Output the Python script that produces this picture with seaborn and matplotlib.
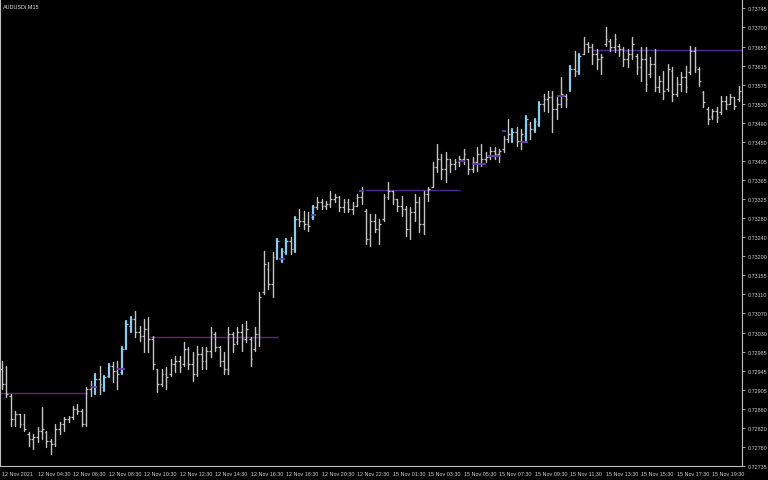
import numpy as np
import pandas as pd
import matplotlib
matplotlib.use("Agg")
import matplotlib.pyplot as plt
import seaborn as sns

# ---------------- data (AUDUSDi, M15) ----------------
highs = [0.72967, 0.72956, 0.72894, 0.72857, 0.72850, 0.72850, 0.72810, 0.72806, 0.72821, 0.72865,
         0.72812, 0.72795, 0.72828, 0.72832, 0.72843, 0.72846, 0.72868, 0.72872, 0.72861, 0.72909,
         0.72923, 0.72938, 0.72956, 0.72934, 0.72960, 0.72965, 0.72967, 0.72998, 0.73055, 0.73064,
         0.73077, 0.73044, 0.73059, 0.73064, 0.73022, 0.72949, 0.72949, 0.72954,
         0.72971, 0.72978, 0.72978, 0.73009, 0.72998, 0.72987, 0.73000, 0.72998, 0.72998, 0.73042, 0.73031,
         0.73000, 0.72987, 0.73042, 0.73031, 0.73042, 0.73048, 0.73055, 0.73020, 0.73042, 0.73119,
         0.73209, 0.73185, 0.73207, 0.73236, 0.73214, 0.73236, 0.73240, 0.73284, 0.73302, 0.73298,
         0.73295, 0.73309, 0.73328, 0.73324, 0.73320, 0.73342, 0.73335, 0.73331, 0.73324, 0.73324,
         0.73317, 0.73335, 0.73350, 0.73302, 0.73291, 0.73291, 0.73280, 0.73335, 0.73361, 0.73342,
         0.73324, 0.73331, 0.73309, 0.73306, 0.73335, 0.73328, 0.73342, 0.73350, 0.73406, 0.73445,
         0.73423, 0.73428, 0.73412, 0.73412, 0.73419, 0.73434, 0.73412, 0.73417, 0.73439, 0.73445,
         0.73428, 0.73439, 0.73439, 0.73434, 0.73463, 0.73500, 0.73478, 0.73483, 0.73478, 0.73507,
         0.73494, 0.73500, 0.73538, 0.73556, 0.73562, 0.73562, 0.73549, 0.73593, 0.73556, 0.73617,
         0.73650, 0.73644, 0.73681, 0.73670, 0.73666, 0.73655, 0.73644, 0.73705, 0.73677,
         0.73688, 0.73666, 0.73659, 0.73655, 0.73683, 0.73644, 0.73659, 0.73659, 0.73637, 0.73655,
         0.73595, 0.73606, 0.73622, 0.73615, 0.73593, 0.73604, 0.73617, 0.73661, 0.73659, 0.73615,
         0.73562, 0.73527, 0.73522, 0.73527, 0.73551, 0.73551, 0.73556, 0.73549, 0.73573]

lows = [0.72905, 0.72887, 0.72823, 0.72823, 0.72821, 0.72812, 0.72779, 0.72773, 0.72788, 0.72795,
        0.72777, 0.72762, 0.72779, 0.72806, 0.72812, 0.72832, 0.72839, 0.72850, 0.72823, 0.72823,
        0.72890, 0.72894, 0.72894, 0.72901, 0.72932, 0.72920, 0.72905, 0.72938, 0.72993, 0.73031,
        0.73020, 0.73011, 0.72987, 0.72987, 0.72949, 0.72898, 0.72912, 0.72905,
        0.72934, 0.72943, 0.72943, 0.72956, 0.72949, 0.72923, 0.72934, 0.72949, 0.72949, 0.72976, 0.72989,
        0.72956, 0.72938, 0.72938, 0.72987, 0.73004, 0.72989, 0.73009, 0.72956, 0.72989, 0.73000,
        0.73115, 0.73126, 0.73108, 0.73192, 0.73185, 0.73203, 0.73203, 0.73207, 0.73264, 0.73258,
        0.73253, 0.73280, 0.73302, 0.73302, 0.73302, 0.73306, 0.73317, 0.73298, 0.73295, 0.73295,
        0.73291, 0.73309, 0.73313, 0.73225, 0.73220, 0.73251, 0.73225, 0.73275, 0.73324, 0.73313,
        0.73298, 0.73287, 0.73242, 0.73236, 0.73275, 0.73251, 0.73247, 0.73320, 0.73350, 0.73384,
        0.73368, 0.73361, 0.73384, 0.73390, 0.73397, 0.73401, 0.73379, 0.73384, 0.73386, 0.73397,
        0.73406, 0.73412, 0.73412, 0.73406, 0.73428, 0.73450, 0.73450, 0.73441, 0.73434, 0.73450,
        0.73456, 0.73472, 0.73485, 0.73518, 0.73516, 0.73472, 0.73500, 0.73527, 0.73527, 0.73562,
        0.73595, 0.73600, 0.73644, 0.73648, 0.73622, 0.73611, 0.73600, 0.73661, 0.73650,
        0.73648, 0.73639, 0.73617, 0.73615, 0.73633, 0.73600, 0.73584, 0.73562, 0.73593, 0.73562,
        0.73560, 0.73544, 0.73562, 0.73540, 0.73551, 0.73562, 0.73560, 0.73600, 0.73604, 0.73573,
        0.73527, 0.73489, 0.73500, 0.73494, 0.73511, 0.73522, 0.73533, 0.73522, 0.73540]

opens = [0.72949, 0.72916, 0.72890, 0.72839, 0.72850, 0.72828, 0.72806, 0.72795, 0.72799, 0.72812,
         0.72810, 0.72790, 0.72784, 0.72817, 0.72828, 0.72839, 0.72843, 0.72861, 0.72857, 0.72828,
         0.72905, 0.72905, 0.72927, 0.72909, 0.72934, 0.72956, 0.72945, 0.72943, 0.72998, 0.73044,
         0.73059, 0.73031, 0.73022, 0.73037, 0.73015, 0.72949, 0.72916, 0.72938,
         0.72938, 0.72960, 0.72967, 0.72960, 0.72993, 0.72960, 0.72938, 0.72982, 0.72967, 0.72989, 0.73026,
         0.72998, 0.72967, 0.72949, 0.73026, 0.73009, 0.73031, 0.73015, 0.73015, 0.72993, 0.73026,
         0.73119, 0.73170, 0.73137, 0.73196, 0.73192, 0.73207, 0.73231, 0.73214, 0.73280, 0.73275,
         0.73269, 0.73284, 0.73306, 0.73317, 0.73309, 0.73313, 0.73324, 0.73328, 0.73306, 0.73317,
         0.73302, 0.73309, 0.73328, 0.73298, 0.73236, 0.73275, 0.73258, 0.73280, 0.73328, 0.73342,
         0.73324, 0.73309, 0.73302, 0.73258, 0.73295, 0.73317, 0.73269, 0.73335, 0.73350, 0.73395,
         0.73412, 0.73390, 0.73412, 0.73401, 0.73406, 0.73412, 0.73412, 0.73390, 0.73406, 0.73423,
         0.73412, 0.73417, 0.73430, 0.73423, 0.73434, 0.73456, 0.73456, 0.73472, 0.73452, 0.73463,
         0.73489, 0.73478, 0.73489, 0.73533, 0.73544, 0.73549, 0.73522, 0.73533, 0.73551, 0.73567,
         0.73611, 0.73606, 0.73644, 0.73666, 0.73659, 0.73644, 0.73633, 0.73666, 0.73672,
         0.73659, 0.73661, 0.73655, 0.73633, 0.73644, 0.73639, 0.73615, 0.73633, 0.73600, 0.73622,
         0.73571, 0.73584, 0.73567, 0.73606, 0.73556, 0.73578, 0.73593, 0.73604, 0.73650, 0.73611,
         0.73560, 0.73522, 0.73507, 0.73518, 0.73516, 0.73540, 0.73533, 0.73549, 0.73544]

closes = [0.72916, 0.72894, 0.72839, 0.72850, 0.72828, 0.72817, 0.72795, 0.72799, 0.72812, 0.72817,
          0.72790, 0.72784, 0.72817, 0.72828, 0.72839, 0.72843, 0.72861, 0.72857, 0.72828, 0.72905,
          0.72909, 0.72927, 0.72916, 0.72932, 0.72956, 0.72945, 0.72938, 0.72993, 0.73048, 0.73059,
          0.73031, 0.73022, 0.73037, 0.73015, 0.72960, 0.72916, 0.72938, 0.72932,
          0.72960, 0.72967, 0.72954, 0.72993, 0.72960, 0.72938, 0.72982, 0.72967, 0.72989, 0.73031, 0.72998,
          0.72967, 0.72949, 0.73026, 0.73004, 0.73031, 0.73015, 0.73037, 0.72971, 0.73026, 0.73108,
          0.73181, 0.73137, 0.73196, 0.73231, 0.73209, 0.73231, 0.73214, 0.73280, 0.73275, 0.73269,
          0.73264, 0.73306, 0.73317, 0.73309, 0.73313, 0.73324, 0.73328, 0.73306, 0.73317, 0.73302,
          0.73309, 0.73328, 0.73342, 0.73236, 0.73275, 0.73258, 0.73269, 0.73328, 0.73342, 0.73324,
          0.73309, 0.73302, 0.73258, 0.73295, 0.73317, 0.73269, 0.73335, 0.73346, 0.73395, 0.73412,
          0.73390, 0.73412, 0.73401, 0.73406, 0.73412, 0.73423, 0.73390, 0.73406, 0.73423, 0.73412,
          0.73417, 0.73430, 0.73423, 0.73430, 0.73456, 0.73467, 0.73472, 0.73452, 0.73467, 0.73500,
          0.73478, 0.73496, 0.73533, 0.73544, 0.73549, 0.73522, 0.73533, 0.73556, 0.73544, 0.73611,
          0.73606, 0.73639, 0.73666, 0.73659, 0.73644, 0.73633, 0.73637, 0.73677, 0.73659,
          0.73677, 0.73655, 0.73633, 0.73644, 0.73666, 0.73615, 0.73633, 0.73578, 0.73622, 0.73571,
          0.73584, 0.73562, 0.73611, 0.73556, 0.73578, 0.73593, 0.73571, 0.73650, 0.73615, 0.73584,
          0.73538, 0.73500, 0.73518, 0.73505, 0.73540, 0.73533, 0.73549, 0.73529, 0.73562]

# bars drawn in the highlight (blue) colour
blue_bars = [21, 23, 24, 27, 28, 29, 62, 63, 64, 66, 70, 115, 118, 120, 121, 128, 130]

# purple level segments: start bar, end bar, price
level_start = [-0.5, 33.3, 81.8, 132.9]
level_end = [19.4, 62.2, 103.2, 167.0]
level_price = [0.72896, 0.73020, 0.73344, 0.73653]

# small purple marks: start bar, end bar, price
mark_start = [20.0, 26.0, 62.5, 69.6, 80.5, 103.0, 105.8, 109.5, 112.6, 117.0, 125.0]
mark_end = [21.3, 27.6, 63.8, 70.8, 81.6, 104.3, 109.0, 112.5, 113.6, 118.6, 126.8]
mark_price = [0.72909, 0.72949, 0.73192, 0.73289, 0.73342, 0.73408, 0.73401, 0.73419, 0.73474, 0.73450, 0.73551]

price_labels = ["0.73745", "0.73700", "0.73655", "0.73615", "0.73575", "0.73530", "0.73490",
                "0.73450", "0.73405", "0.73365", "0.73325", "0.73280", "0.73240", "0.73200",
                "0.73155", "0.73110", "0.73070", "0.73030", "0.72985", "0.72945", "0.72905",
                "0.72860", "0.72820", "0.72780", "0.72735"]

time_labels = ["12 Nov 2021", "12 Nov 04:30", "12 Nov 06:30", "12 Nov 08:30", "12 Nov 10:30",
               "12 Nov 12:30", "12 Nov 14:30", "12 Nov 16:30", "12 Nov 18:30", "12 Nov 20:30",
               "12 Nov 22:30", "15 Nov 01:30", "15 Nov 03:30", "15 Nov 05:30", "15 Nov 07:30",
               "15 Nov 09:30", "15 Nov 11:30", "15 Nov 13:30", "15 Nov 15:30", "15 Nov 17:30",
               "15 Nov 19:30"]

# ---------------- style ----------------
sns.set_style("dark", rc={"axes.facecolor": "black", "figure.facecolor": "black",
                          "axes.edgecolor": "#bdbdbd", "axes.grid": False})
plt.rcParams["font.family"] = ["Liberation Sans", "DejaVu Sans"]

FG = "#c4c4c4"
BLUE = "#8ccbf0"
PURPLE = "#55288c"

fig = plt.figure(figsize=(7.68, 4.81), dpi=100)
ax = fig.add_axes([0.0, 14 / 481, 742 / 768, 1 - 14 / 481 - 0.5 / 481])
ax.set_facecolor("black")

n = len(highs)
idx = np.arange(n)
is_blue = np.array([i in blue_bars for i in range(n)])

df = pd.DataFrame({
    "bar": np.concatenate([idx, idx]),
    "price": np.concatenate([np.array(lows), np.array(highs)]),
    "blue": np.concatenate([is_blue, is_blue]),
})

sns.lineplot(data=df[~df["blue"]], x="bar", y="price", units="bar", estimator=None,
             color=FG, sort=False, legend=False, linewidth=1.0, ax=ax)
sns.lineplot(data=df[df["blue"]], x="bar", y="price", units="bar", estimator=None,
             color=BLUE, sort=False, legend=False, linewidth=1.6, ax=ax)

cols = [BLUE if b else FG for b in is_blue]
tick = 0.38
ax.hlines(opens, idx - tick, idx, colors=cols, linewidth=0.9)
ax.hlines(closes, idx, idx + tick, colors=cols, linewidth=0.9)

# purple levels and marks
ax.hlines(level_price, level_start, level_end, colors=PURPLE, linewidth=1.0, zorder=1)
ax.hlines(mark_price, mark_start, mark_end, colors="#6a3aae", linewidth=1.3, zorder=3)

# ---------------- axes ----------------
ax.set_xlim(-0.45, 166.7)
ax.set_ylim(0.72735, 0.737647)

ax.yaxis.tick_right()
ax.set_yticks(np.linspace(0.72735, 0.73745, len(price_labels))[::-1])
ax.set_yticklabels(price_labels)
ax.set_xticks(np.arange(0, 8 * len(time_labels), 8))
ax.set_xticklabels(time_labels, ha="left")
ax.tick_params(axis="y", colors=FG, labelcolor="#d0d0d0", labelsize=3.9,
               length=2.5, width=0.6, pad=1.5, direction="out")
ax.tick_params(axis="x", colors=FG, labelcolor="#d0d0d0", labelsize=3.9,
               length=2.5, width=0.6, pad=1.0, direction="out")
ax.set_xlabel("")
ax.set_ylabel("")

for side in ["left", "right", "bottom"]:
    ax.spines[side].set_visible(True)
    ax.spines[side].set_color("#bdbdbd")
    ax.spines[side].set_linewidth(0.8)
ax.spines["top"].set_visible(False)

ax.text(0.004, 0.992, "AUDUSDi,M15", transform=ax.transAxes, color="#e0e0e0",
        fontsize=4.0, ha="left", va="top")

fig.savefig("out.png", dpi=100, facecolor="black")
